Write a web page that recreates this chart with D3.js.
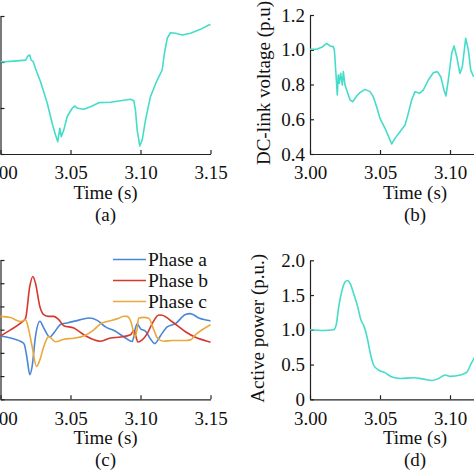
<!DOCTYPE html>
<html>
<head>
<meta charset="utf-8">
<script src="https://cdn.jsdelivr.net/npm/d3@7/dist/d3.min.js"></script>
<style>
  html, body { margin: 0; padding: 0; background: #fff; }
  svg { display: block; }
  text { font-family: "Liberation Serif", "Times New Roman", serif; fill: #111; }
</style>
</head>
<body>
<svg id="chart" width="474" height="474"></svg>
<script>
// ---- data ----
// (a) top left, y labels are outside the crop
var a_time = [3.0000, 3.0095, 3.0179, 3.0195, 3.0209, 3.0219, 3.0234, 3.0250, 3.0286, 3.0334,
              3.0369, 3.0393, 3.0409, 3.0424, 3.0434, 3.0452, 3.0476, 3.0512, 3.0529, 3.0552,
              3.0595, 3.0643, 3.0702, 3.0786, 3.0857, 3.0929, 3.0952, 3.0964, 3.0976, 3.0995,
              3.1012, 3.1036, 3.1071, 3.1119, 3.1155, 3.1171, 3.1191, 3.1214, 3.1250, 3.1298,
              3.1357, 3.1429, 3.1488, 3.1500];
var a_value = [1.00, 1.01, 1.02, 1.065, 1.076, 1.02, 1.003, 0.93, 0.786, 0.551,
               0.334, 0.207, 0.134, 0.28, 0.188, 0.26, 0.405, 0.497, 0.522, 0.497,
               0.486, 0.514, 0.558, 0.562, 0.579, 0.595, 0.579, 0.478, 0.261, 0.087,
               0.152, 0.37, 0.623, 0.804, 0.913, 1.095, 1.258, 1.318, 1.312, 1.293,
               1.312, 1.355, 1.402, 1.408];
var a_ticks = [0, 0.5, 1.0, 1.5];

// (b) DC-link voltage
var b_time = [3.0000, 3.0048, 3.0084, 3.0119, 3.0143, 3.0166, 3.0174, 3.0186, 3.0195, 3.0202,
              3.0209, 3.0219, 3.0231, 3.0238, 3.0250, 3.0262, 3.0286, 3.0305, 3.0334, 3.0357,
              3.0393, 3.0429, 3.0452, 3.0476, 3.0500, 3.0536, 3.0571, 3.0584, 3.0607, 3.0643,
              3.0679, 3.0702, 3.0726, 3.0750, 3.0781, 3.0809, 3.0845, 3.0881, 3.0909, 3.0934,
              3.0957, 3.0971, 3.0988, 3.1012, 3.1029, 3.1048, 3.1071, 3.1088, 3.1112, 3.1131,
              3.1148, 3.1166, 3.1186];
var b_value = [1.003, 1.003, 1.014, 1.037, 1.022, 1.018, 0.999, 0.855, 0.740, 0.855,
               0.807, 0.864, 0.797, 0.874, 0.797, 0.768, 0.711, 0.701, 0.734, 0.753,
               0.772, 0.759, 0.730, 0.672, 0.605, 0.548, 0.481, 0.458, 0.490, 0.528,
               0.567, 0.634, 0.711, 0.759, 0.749, 0.768, 0.826, 0.868, 0.874, 0.845,
               0.768, 0.734, 0.826, 0.980, 1.022, 0.960, 0.864, 0.902, 1.066, 0.999,
               0.883, 0.849, 0.843];
var b_ticks = [0.4, 0.6, 0.8, 1.0, 1.2];

// (c) three phase currents
var c_series = ["Phase a", "Phase b", "Phase c"];
var c_colors = ["#4a86d6", "#d4392d", "#e9a93c"];
var ca_time = [3.0000, 3.0071, 3.0162, 3.0171, 3.0191, 3.0209, 3.0226, 3.0250, 3.0281, 3.0309,
               3.0352, 3.0381, 3.0429, 3.0476, 3.0548, 3.0631, 3.0691, 3.0750, 3.0821, 3.0893,
               3.0941, 3.0964, 3.0976, 3.1000, 3.1036, 3.1071, 3.1102, 3.1143, 3.1191, 3.1250,
               3.1321, 3.1357, 3.1416, 3.1488, 3.1500];
var ca_value = [-0.27, -0.36, -0.57, -0.65, -1.29, -1.94, -1.58, -0.29, 0.36, 0.07,
                -0.32, -0.14, 0.22, 0.29, 0.39, 0.50, 0.40, 0.12, -0.07, -0.36,
                -0.51, 0.07, 0.25, 0.04, -0.07, -0.40, -0.60, -0.26, 0.12, 0.26,
                0.65, 0.69, 0.50, 0.39, 0.37];
var cb_time = [3.0000, 3.0071, 3.0143, 3.0179, 3.0209, 3.0231, 3.0250, 3.0281, 3.0309, 3.0345,
               3.0381, 3.0416, 3.0452, 3.0524, 3.0595, 3.0714, 3.0786, 3.0857, 3.0929, 3.0952,
               3.0982, 3.1012, 3.1048, 3.1086, 3.1131, 3.1155, 3.1226, 3.1321, 3.1393, 3.1488,
               3.1500];
var cb_value = [-0.27, -0.01, 0.28, 0.49, 1.86, 2.29, 2.00, 1.00, 0.65, 0.57,
                0.57, 0.43, 0.17, 0.07, -0.22, -0.50, -0.36, -0.32, -0.22, -0.04,
                -0.53, -0.44, -0.17, 0.29, 0.63, 0.62, 0.34, -0.09, -0.33, -0.52,
                -0.54];
var cc_time = [3.0000, 3.0071, 3.0143, 3.0179, 3.0202, 3.0226, 3.0257, 3.0281, 3.0309, 3.0345,
               3.0393, 3.0452, 3.0524, 3.0595, 3.0667, 3.0714, 3.0762, 3.0845, 3.0881, 3.0905,
               3.0941, 3.0957, 3.0975, 3.0986, 3.1021, 3.1059, 3.1095, 3.1121, 3.1166, 3.1226,
               3.1321, 3.1357, 3.1393, 3.1488, 3.1500];
var cc_value = [0.57, 0.52, 0.35, 0.42, -0.01, -0.73, -1.59, -1.31, -0.73, -0.30,
                -0.52, -0.41, -0.37, -0.27, -0.01, 0.25, 0.35, 0.49, 0.58, 0.57,
                0.14, -0.31, -0.01, 0.49, 0.53, 0.49, -0.01, -0.36, -0.50, -0.47,
                -0.47, -0.44, -0.22, 0.17, 0.21];
var c_ticks = [-3, -2, -1, 0, 1, 2, 3];

// (d) active power
var d_time = [3.0000, 3.0098, 3.0169, 3.0188, 3.0205, 3.0229, 3.0252, 3.0269, 3.0288, 3.0312,
              3.0341, 3.0364, 3.0384, 3.0407, 3.0431, 3.0455, 3.0491, 3.0538, 3.0586, 3.0645,
              3.0741, 3.0812, 3.0871, 3.0919, 3.0966, 3.1002, 3.1074, 3.1121, 3.1145, 3.1169,
              3.1193];
var d_value = [1.00, 0.99, 1.00, 1.08, 1.33, 1.57, 1.69, 1.71, 1.66, 1.52,
               1.33, 1.14, 1.06, 0.90, 0.66, 0.49, 0.42, 0.38, 0.32, 0.30,
               0.31, 0.29, 0.27, 0.30, 0.35, 0.33, 0.35, 0.39, 0.49, 0.58,
               0.68];
var d_ticks = [0, 0.5, 1.0, 1.5, 2.0];

var time_ticks = [3.00, 3.05, 3.10, 3.15];

// ---- drawing ----
var svg = d3.select("#chart");
var teal = "#45dcc9";
var fontSize = 19;

function zip(ts, vs) {
  return ts.map(function(t, i) { return {t: t, v: vs[i]}; });
}

function panel(opt) {
  var x = d3.scaleLinear().domain([3.00, 3.15]).range([opt.left, opt.left + 210]);
  var y = d3.scaleLinear().domain(opt.domain).range([opt.bottom, opt.top]);
  var g = svg.append("g");

  var xAxis = d3.axisBottom(x).tickValues(time_ticks)
    .tickFormat(d3.format(".2f")).tickSizeInner(-4).tickSizeOuter(0).tickPadding(12);
  var gx = g.append("g").attr("transform", "translate(0," + opt.bottom + ")").call(xAxis);

  var yAxis = d3.axisLeft(y).tickValues(opt.ticks)
    .tickFormat(opt.fmt).tickSizeInner(-4).tickSizeOuter(0).tickPadding(5);
  var gy = g.append("g").attr("transform", "translate(" + opt.left + ",0)").call(yAxis);

  [gx, gy].forEach(function(a) {
    a.selectAll("path, line").attr("stroke", "#222").attr("stroke-width", 1.2);
    a.selectAll("text").style("font-size", fontSize + "px")
      .style("font-family", "Liberation Serif").attr("fill", "#111");
  });

  var line = d3.line()
    .x(function(d) { return x(d.t); })
    .y(function(d) { return y(d.v); })
    .curve(opt.curve || d3.curveLinear);

  opt.series.forEach(function(s) {
    g.append("path")
      .datum(s.data)
      .attr("fill", "none")
      .attr("stroke", s.color)
      .attr("stroke-width", 1.6)
      .attr("stroke-linejoin", "round")
      .attr("d", line);
  });

  var mid = opt.left + 105;
  g.append("text").attr("x", mid).attr("y", opt.bottom + 45)
    .attr("text-anchor", "middle").style("font-size", fontSize + "px").text("Time (s)");
  g.append("text").attr("x", mid).attr("y", opt.bottom + 66.5)
    .attr("text-anchor", "middle").style("font-size", fontSize + "px").text(opt.tag);

  if (opt.ylabel) {
    g.append("text")
      .attr("transform", "translate(" + opt.ylabelX + "," + ((opt.top + opt.bottom) / 2 - 1.5) + ") rotate(-90)")
      .attr("text-anchor", "middle").style("font-size", fontSize + "px").text(opt.ylabel);
  }
  return {g: g, x: x, y: y};
}

var fmt1 = d3.format(".1f");

panel({
  left: 0.5, top: 16, bottom: 154, domain: [0, 1.5], ticks: a_ticks, fmt: fmt1, tag: "(a)",
  series: [{data: zip(a_time, a_value), color: teal}]
});

panel({
  left: 310, top: 15, bottom: 154, domain: [0.4, 1.2], ticks: b_ticks, fmt: fmt1, tag: "(b)",
  ylabel: "DC-link voltage (p.u)", ylabelX: 270,
  series: [{data: zip(b_time, b_value), color: teal}]
});

var pc = panel({
  left: 0.5, top: 260, bottom: 399.3, domain: [-3, 3], ticks: c_ticks, fmt: d3.format("d"), tag: "(c)",
  curve: d3.curveMonotoneX,
  series: [
    {data: zip(ca_time, ca_value), color: c_colors[0]},
    {data: zip(cb_time, cb_value), color: c_colors[1]},
    {data: zip(cc_time, cc_value), color: c_colors[2]}
  ]
});

// legend for (c)
var legend = pc.g.append("g");
c_series.forEach(function(name, i) {
  var ly = 259.5 + i * 21;
  legend.append("line").attr("x1", 113).attr("x2", 146).attr("y1", ly).attr("y2", ly)
    .attr("stroke", c_colors[i]).attr("stroke-width", 1.6);
  legend.append("text").attr("x", 148).attr("y", ly + 6.8)
    .style("font-size", "19.5px").text(name);
});

panel({
  left: 310, top: 260.3, bottom: 399.3, domain: [0, 2], ticks: d_ticks,
  fmt: function(d) { return d === 0 ? "0" : fmt1(d); }, tag: "(d)",
  ylabel: "Active power (p.u.)", ylabelX: 264, curve: d3.curveMonotoneX,
  series: [{data: zip(d_time, d_value), color: teal}]
});
</script>
</body>
</html>
